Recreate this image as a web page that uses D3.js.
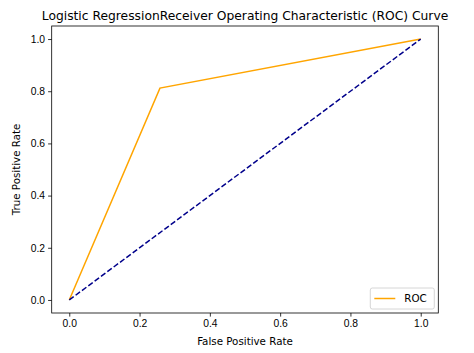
<!DOCTYPE html>
<html>
<head>
<meta charset="utf-8">
<script src="https://cdn.jsdelivr.net/npm/d3@7"></script>
<style>
  body { margin: 0; background: #fff; }
  svg { display: block; font-family: "DejaVu Sans", sans-serif; }
  .axis text { font-size: 10.3px; fill: #000; }
  .axis path, .axis line { stroke: #000; stroke-width: 0.8px; }
</style>
</head>
<body>
<script>
const fpr = [0, 0.258, 1];
const tpr = [0, 0.812, 1];
const chanceX = [0, 1];
const chanceY = [0, 1];
const ticks = [0, 0.2, 0.4, 0.6, 0.8, 1.0];

const width = 474, height = 353;
const margin = { top: 26, right: 474 - 438.3, bottom: 353 - 313, left: 51.7 };
const w = width - margin.left - margin.right;
const h = height - margin.top - margin.bottom;

const svg = d3.select('body').append('svg')
  .attr('width', width)
  .attr('height', height);

const x = d3.scaleLinear().domain([-0.05, 1.05]).range([0, w]);
const y = d3.scaleLinear().domain([-0.05, 1.05]).range([h, 0]);

const g = svg.append('g')
  .attr('transform', `translate(${margin.left},${margin.top})`);

const line = d3.line()
  .x(d => x(d[0]))
  .y(d => y(d[1]));

// ROC curve
g.append('path')
  .datum(d3.zip(fpr, tpr))
  .attr('d', line)
  .attr('fill', 'none')
  .attr('stroke', 'orange')
  .attr('stroke-width', 1.5);

// chance line
g.append('path')
  .datum(d3.zip(chanceX, chanceY))
  .attr('d', line)
  .attr('fill', 'none')
  .attr('stroke', 'darkblue')
  .attr('stroke-width', 1.5)
  .attr('stroke-dasharray', '5.5,2.4');

// axes
g.append('g')
  .attr('class', 'axis')
  .attr('transform', `translate(0,${h})`)
  .call(d3.axisBottom(x).tickValues(ticks).tickFormat(d3.format('.1f')).tickSize(3.6).tickPadding(3))
  .call(a => a.select('.domain').remove());

g.append('g')
  .attr('class', 'axis')
  .call(d3.axisLeft(y).tickValues(ticks).tickFormat(d3.format('.1f')).tickSize(3.6).tickPadding(3))
  .call(a => a.select('.domain').remove());

// frame
g.append('rect')
  .attr('width', w)
  .attr('height', h)
  .attr('fill', 'none')
  .attr('stroke', '#000')
  .attr('stroke-width', 0.8);

// labels
svg.append('text')
  .attr('x', margin.left + w / 2)
  .attr('y', 20)
  .attr('text-anchor', 'middle')
  .attr('font-size', 12.3)
  .text('Logistic RegressionReceiver Operating Characteristic (ROC) Curve');

svg.append('text')
  .attr('x', margin.left + w / 2)
  .attr('y', 345)
  .attr('text-anchor', 'middle')
  .attr('font-size', 10.3)
  .text('False Positive Rate');

svg.append('text')
  .attr('transform', `translate(20,${margin.top + h / 2}) rotate(-90)`)
  .attr('text-anchor', 'middle')
  .attr('font-size', 10.3)
  .text('True Positive Rate');

// legend
const legend = g.append('g')
  .attr('transform', `translate(${w - 68},${h - 25})`);
legend.append('rect')
  .attr('width', 64)
  .attr('height', 21)
  .attr('rx', 2)
  .attr('fill', '#fff')
  .attr('fill-opacity', 0.8)
  .attr('stroke', '#ccc')
  .attr('stroke-width', 0.8);
legend.append('line')
  .attr('x1', 4).attr('x2', 25)
  .attr('y1', 10.5).attr('y2', 10.5)
  .attr('stroke', 'orange')
  .attr('stroke-width', 1.5);
legend.append('text')
  .attr('x', 34)
  .attr('y', 14.3)
  .attr('font-size', 10.3)
  .text('ROC');
</script>
</body>
</html>
